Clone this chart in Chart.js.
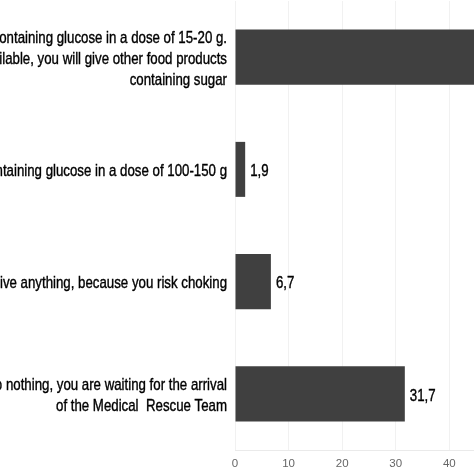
<!DOCTYPE html>
<html>
<head>
<meta charset="utf-8">
<script src="https://cdn.jsdelivr.net/npm/chart.js@4.4.0/dist/chart.umd.min.js"></script>
<style>
  html, body { margin: 0; padding: 0; background: #ffffff; overflow: hidden; width: 474px; height: 474px; }
  #wrap { position: absolute; left: -400px; top: 0; width: 1025px; height: 474px; }
</style>
</head>
<body>
<div id="wrap"><canvas id="c" width="1025" height="474"></canvas></div>
<script>
const categories = [
  ["You will give a preparation containing glucose in a dose of 15-20 g.", "If it is not available, you will give other food products", "containing sugar"],
  ["You will give a preparation containing glucose in a dose of 100-150 g"],
  ["You will not give anything, because you risk choking"],
  ["You will do nothing, you are waiting for the arrival", "of the Medical  Rescue Team"]
];
const values = [59.7, 1.9, 6.7, 31.7];
const tickValues = [0, 10, 20, 30, 40, 50, 60, 70];

const labelFont = "17px 'Liberation Sans', Arial, sans-serif";
const squeeze = 0.78;
const lineGap = 21;

function drawText(ctx, txt, x, y) {
  ctx.save();
  ctx.translate(x, y);
  ctx.scale(squeeze, 1);
  ctx.strokeText(txt, 0, 0);
  ctx.fillText(txt, 0, 0);
  ctx.restore();
}

// draws category labels and value labels in a condensed style
const textPlugin = {
  id: 'textPlugin',
  afterDatasetsDraw(chart) {
    const ctx = chart.ctx;
    const yScale = chart.scales.y;
    const meta = chart.getDatasetMeta(0);
    ctx.save();
    ctx.font = labelFont;
    ctx.fillStyle = '#000000';
    ctx.strokeStyle = '#000000';
    ctx.lineWidth = 0.4;
    ctx.textBaseline = 'middle';
    ctx.textAlign = 'right';
    categories.forEach((lines, i) => {
      const yc = yScale.getPixelForValue(i) + 2;
      const xr = chart.chartArea.left - 8;
      const n = lines.length;
      lines.forEach((ln, k) => {
        drawText(ctx, ln, xr, yc + (k - (n - 1) / 2) * lineGap);
      });
    });
    ctx.textAlign = 'left';
    meta.data.forEach((bar, i) => {
      const txt = values[i].toFixed(1).replace('.', ',');
      drawText(ctx, txt, bar.x + 5, bar.y + 2);
    });
    ctx.restore();
  }
};

new Chart(document.getElementById('c'), {
  type: 'bar',
  data: {
    labels: categories.map(l => l.join(' ')),
    datasets: [{
      data: values,
      backgroundColor: '#404040',
      borderWidth: 0,
      categoryPercentage: 1.0,
      barPercentage: 0.49
    }]
  },
  options: {
    indexAxis: 'y',
    responsive: false,
    animation: false,
    devicePixelRatio: 1,
    layout: { padding: { top: 1, right: 15, bottom: 0, left: 0 } },
    plugins: { legend: { display: false }, tooltip: { enabled: false } },
    scales: {
      x: {
        min: 0,
        max: 70,
        afterBuildTicks(scale) { scale.ticks = tickValues.map(v => ({ value: v })); },
        afterFit(scale) { scale.height = 24; scale.paddingLeft = 0; },
        grid: { color: '#f1f1f1', lineWidth: 1, drawTicks: false },
        border: { display: true, color: '#eaeaea', width: 1 },
        ticks: {
          padding: 7,
          color: '#666666',
          font: { family: "'Liberation Sans', Arial, sans-serif", size: 11.5 }
        }
      },
      y: {
        afterFit(scale) { scale.width = 635; scale.paddingTop = 0; scale.paddingBottom = 0; },
        grid: { display: false, drawTicks: false },
        border: { display: false },
        ticks: { display: false }
      }
    }
  },
  plugins: [textPlugin]
});
</script>
</body>
</html>
